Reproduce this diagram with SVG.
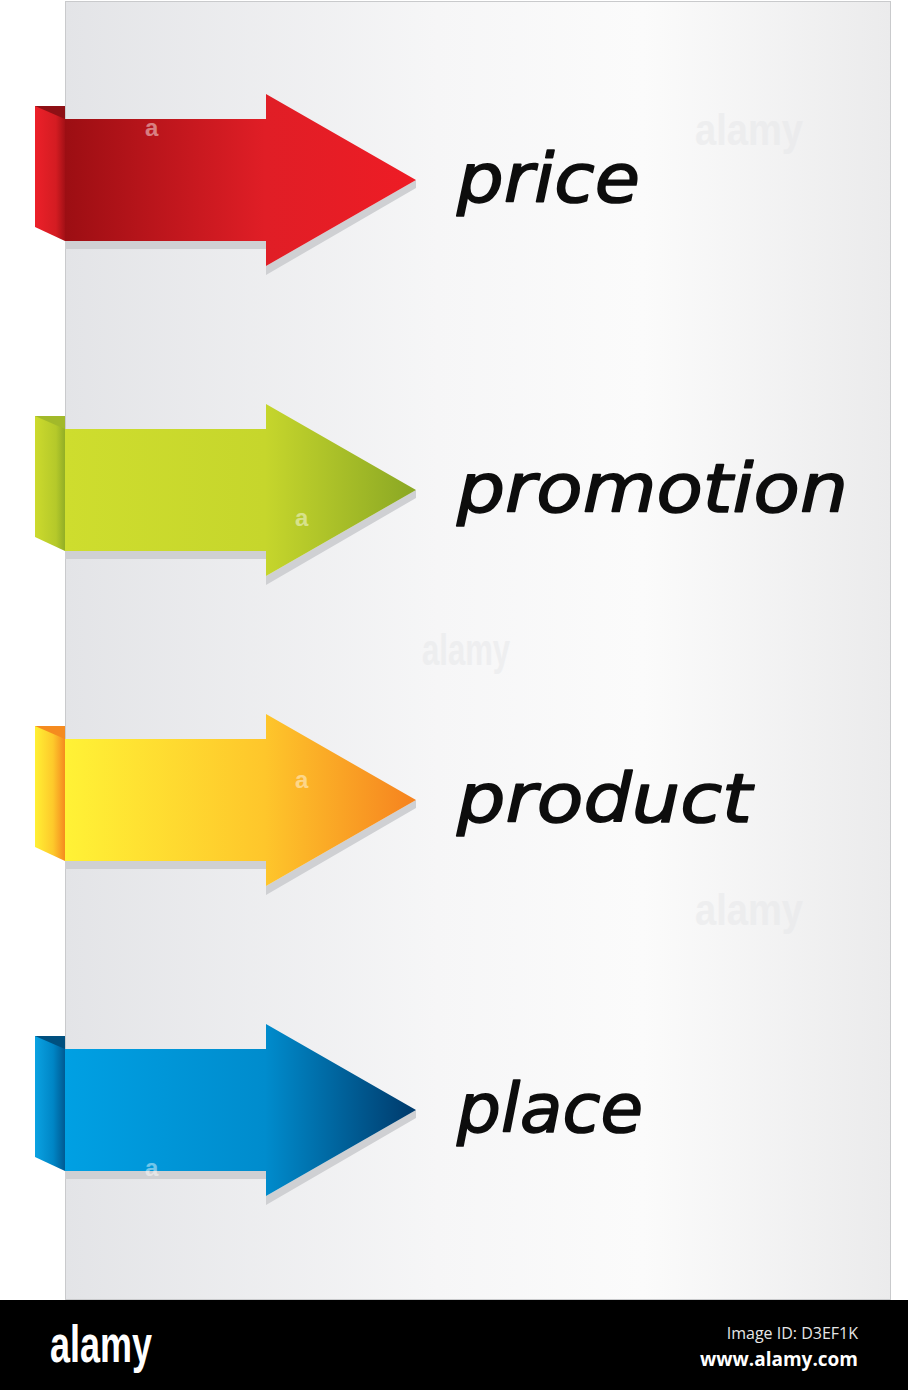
<svg xmlns="http://www.w3.org/2000/svg" width="908" height="1390" viewBox="0 0 908 1390">
<style>
.lbl{font-family:"DejaVu Sans","Liberation Sans",sans-serif;font-weight:normal;font-style:italic;font-size:68px;fill:#0d0d0d;stroke:#0d0d0d;stroke-width:1.6px;stroke-linejoin:round}
.shadow{fill:#cfd0d3}
.wm{font-family:"Liberation Sans",sans-serif;font-weight:bold;fill:#ffffff;opacity:0.45}
.wmg{font-family:"Liberation Sans",sans-serif;font-weight:bold;fill:#e6e7e9;opacity:0.5}
</style>
<defs>
<linearGradient id="paper" x1="65" y1="0" x2="891" y2="0" gradientUnits="userSpaceOnUse">
<stop offset="0" stop-color="#e3e4e7"/>
<stop offset="0.45" stop-color="#f6f6f7"/>
<stop offset="0.7" stop-color="#fbfbfb"/>
<stop offset="1" stop-color="#ebebec"/>
</linearGradient>
<linearGradient id="rS" x1="65" y1="0" x2="416" y2="0" gradientUnits="userSpaceOnUse">
<stop offset="0" stop-color="#9c0e13"/><stop offset="0.57" stop-color="#e01e26"/><stop offset="1" stop-color="#ee1c25"/>
</linearGradient>
<linearGradient id="gS" x1="65" y1="0" x2="416" y2="0" gradientUnits="userSpaceOnUse">
<stop offset="0" stop-color="#cedd2e"/><stop offset="0.57" stop-color="#c6d62c"/><stop offset="1" stop-color="#8aa724"/>
</linearGradient>
<linearGradient id="yS" x1="65" y1="0" x2="416" y2="0" gradientUnits="userSpaceOnUse">
<stop offset="0" stop-color="#fff236"/><stop offset="0.57" stop-color="#fec62b"/><stop offset="1" stop-color="#f6821f"/>
</linearGradient>
<linearGradient id="bS" x1="65" y1="0" x2="416" y2="0" gradientUnits="userSpaceOnUse">
<stop offset="0" stop-color="#00a0e3"/><stop offset="0.57" stop-color="#008ccd"/><stop offset="1" stop-color="#00396a"/>
</linearGradient>
<linearGradient id="rF" x1="35" y1="0" x2="65" y2="0" gradientUnits="userSpaceOnUse">
<stop offset="0" stop-color="#ec2029"/><stop offset="0.7" stop-color="#d41c22"/><stop offset="1" stop-color="#a31016"/>
</linearGradient>
<linearGradient id="gF" x1="35" y1="0" x2="65" y2="0" gradientUnits="userSpaceOnUse">
<stop offset="0" stop-color="#ccda2d"/><stop offset="0.7" stop-color="#b5c92a"/><stop offset="1" stop-color="#92ae26"/>
</linearGradient>
<linearGradient id="yF" x1="35" y1="0" x2="65" y2="0" gradientUnits="userSpaceOnUse">
<stop offset="0" stop-color="#fff034"/><stop offset="0.6" stop-color="#fdc92b"/><stop offset="1" stop-color="#f58a1f"/>
</linearGradient>
<linearGradient id="bF" x1="35" y1="0" x2="65" y2="0" gradientUnits="userSpaceOnUse">
<stop offset="0" stop-color="#0aa2e2"/><stop offset="0.6" stop-color="#0086c6"/><stop offset="1" stop-color="#005a93"/>
</linearGradient>
</defs>
<rect x="0" y="0" width="908" height="1390" fill="#ffffff"/>
<g id="paper-sheet">
<rect x="65.5" y="1.5" width="825" height="1298" fill="url(#paper)" stroke="#c9cacc" stroke-width="1"/>
<text class="wmg" x="695" y="145" font-size="44" textLength="108" lengthAdjust="spacingAndGlyphs">alamy</text>
<text class="wmg" x="695" y="925" font-size="44" textLength="108" lengthAdjust="spacingAndGlyphs">alamy</text>
<text class="wmg" x="422" y="665" font-size="44" textLength="88" lengthAdjust="spacingAndGlyphs">alamy</text>
</g>
<g id="connectors"></g>
<g id="node-price" transform="translate(0,180)">
<path class="shadow" d="M65,61 H266 V69 H65 Z M416,0 L416,8 L266,95 L266,86 Z"/>
<path d="M35,-74 H65 V61 L35,47 Z" fill="url(#rF)"/>
<path d="M35,-74 H65 V-61 Z" fill="#8e1015"/>
<path d="M65,-61 H266 V-86 L416,0 L266,86 V61 H65 Z" fill="url(#rS)"/>
<text class="wm" x="145" y="-44" font-size="24">a</text>
<text class="lbl" x="457" y="22" textLength="183" lengthAdjust="spacingAndGlyphs">price</text>
</g>
<g id="node-promotion" transform="translate(0,490)">
<path class="shadow" d="M65,61 H266 V69 H65 Z M416,0 L416,8 L266,95 L266,86 Z"/>
<path d="M35,-74 H65 V61 L35,47 Z" fill="url(#gF)"/>
<path d="M35,-74 H65 V-61 Z" fill="#a2b92a"/>
<path d="M65,-61 H266 V-86 L416,0 L266,86 V61 H65 Z" fill="url(#gS)"/>
<text class="wm" x="295" y="36" font-size="24">a</text>
<text class="lbl" x="457" y="22" textLength="391" lengthAdjust="spacingAndGlyphs">promotion</text>
</g>
<g id="node-product" transform="translate(0,800)">
<path class="shadow" d="M65,61 H266 V69 H65 Z M416,0 L416,8 L266,95 L266,86 Z"/>
<path d="M35,-74 H65 V61 L35,47 Z" fill="url(#yF)"/>
<path d="M35,-74 H65 V-61 Z" fill="#f58b1f"/>
<path d="M65,-61 H266 V-86 L416,0 L266,86 V61 H65 Z" fill="url(#yS)"/>
<text class="wm" x="295" y="-12" font-size="24">a</text>
<text class="lbl" x="457" y="22" textLength="295" lengthAdjust="spacingAndGlyphs">product</text>
</g>
<g id="node-place" transform="translate(0,1110)">
<path class="shadow" d="M65,61 H266 V69 H65 Z M416,0 L416,8 L266,95 L266,86 Z"/>
<path d="M35,-74 H65 V61 L35,47 Z" fill="url(#bF)"/>
<path d="M35,-74 H65 V-61 Z" fill="#00507f"/>
<path d="M65,-61 H266 V-86 L416,0 L266,86 V61 H65 Z" fill="url(#bS)"/>
<text class="wm" x="145" y="66" font-size="24">a</text>
<text class="lbl" x="457" y="22" textLength="186" lengthAdjust="spacingAndGlyphs">place</text>
</g>
<g id="footer">
<rect x="0" y="1300" width="908" height="90" fill="#000000"/>
<text x="50" y="1362" font-family="Liberation Sans, sans-serif" font-weight="bold" font-size="52" fill="#ffffff" textLength="102" lengthAdjust="spacingAndGlyphs">alamy</text>
<text x="858" y="1339" text-anchor="end" font-family="Open Sans, Liberation Sans, sans-serif" font-size="16" fill="#e6e6e6">Image ID: D3EF1K</text>
<text x="858" y="1366" text-anchor="end" font-family="Open Sans, Liberation Sans, sans-serif" font-weight="bold" font-size="19" fill="#ffffff">www.alamy.com</text>
</g>
</svg>
